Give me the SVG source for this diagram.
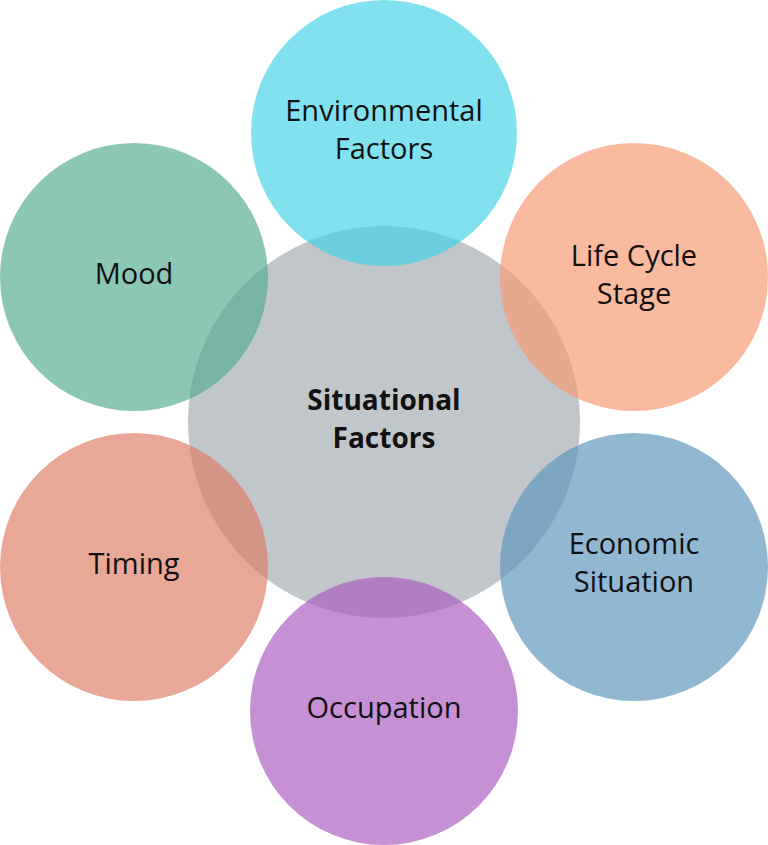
<svg xmlns="http://www.w3.org/2000/svg" width="768" height="845" viewBox="0 0 768 845">
<style>
text{font-family:"Open Sans","Noto Sans",sans-serif;font-size:29px;fill:#111;text-anchor:middle}
.b{font-weight:bold;font-size:28px}
.o{opacity:0.68}
</style>
<rect width="768" height="845" fill="#fff"/>
<g id="center"><circle cx="384" cy="422" r="196" fill="#c1c6ca"/></g>
<g id="env"><circle class="o" cx="384" cy="133" r="133" fill="#46d3e7"/><text x="384" y="121">Environmental</text><text x="384" y="159">Factors</text></g>
<g id="life"><circle class="o" cx="634" cy="277" r="134" fill="#f89a72"/><text x="634" y="266">Life Cycle</text><text x="634" y="304">Stage</text></g>
<g id="econ"><circle class="o" cx="634" cy="567" r="134" fill="#5e97bb"/><text x="634" y="554">Economic</text><text x="634" y="592">Situation</text></g>
<g id="occ"><circle class="o" cx="384" cy="711" r="134" fill="#ab5cc0"/><text x="384" y="718">Occupation</text></g>
<g id="timing"><circle class="o" cx="134" cy="567" r="134" fill="#de7e66"/><text x="134" y="574">Timing</text></g>
<g id="mood"><circle class="o" cx="134" cy="277" r="134" fill="#55ab91"/><text x="134" y="284">Mood</text></g>
<g id="centerlabel"><text class="b" x="384" y="410">Situational</text><text class="b" x="384" y="448">Factors</text></g>
<g id="connectors"></g>
</svg>
